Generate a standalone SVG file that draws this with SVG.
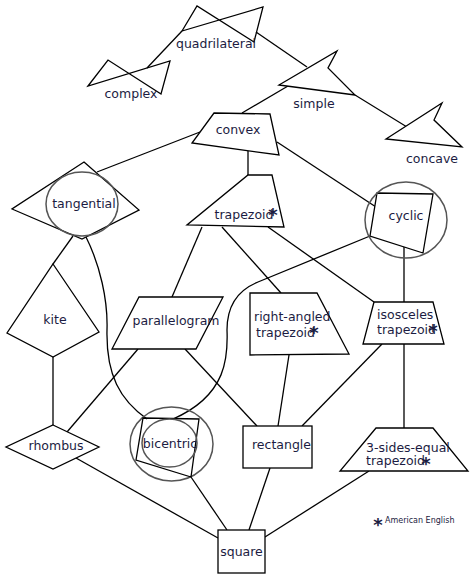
<svg xmlns="http://www.w3.org/2000/svg" width="474" height="579" viewBox="0 0 474 579">
<style>
.s{fill:#fff;stroke:#000;stroke-width:1.3;stroke-linejoin:miter}
.c{fill:none;stroke:#555;stroke-width:1.5}
.l{fill:none;stroke:#000;stroke-width:1.3}
.t{font-family:"DejaVu Sans",sans-serif;font-size:12.5px;fill:#1c1c42}
.m{text-anchor:middle}
.a{font-family:"DejaVu Sans",sans-serif;font-size:18px;font-weight:bold;fill:#1c1c42;text-anchor:middle}
.n{font-family:"DejaVu Sans",sans-serif;font-size:8px;fill:#1c1c42}
</style>
<rect width="474" height="579" fill="#fff"/>
<g id="connectors">
<line class="l" x1="182" y1="31" x2="147" y2="68"/>
<line class="l" x1="256" y1="32" x2="307" y2="67"/>
<line class="l" x1="355" y1="95" x2="407" y2="127"/>
<line class="l" x1="288" y1="86" x2="242" y2="113"/>
<line class="l" x1="200" y1="132" x2="97" y2="172"/>
<line class="l" x1="248" y1="151" x2="248" y2="175"/>
<line class="l" x1="277" y1="142" x2="376" y2="207"/>
<line class="l" x1="73" y1="236" x2="53" y2="264"/>
<path class="l" d="M86,237 C100,265 108,300 107,330 C106,375 120,400 147,419"/>
<line class="l" x1="202" y1="227" x2="172" y2="297"/>
<line class="l" x1="222" y1="227" x2="281" y2="293"/>
<line class="l" x1="268" y1="227" x2="374" y2="302"/>
<line class="l" x1="404" y1="247" x2="404" y2="302"/>
<path class="l" d="M370,236 L258,282 C238,290 227,305 227,330 C228,355 228,395 173,419"/>
<line class="l" x1="53" y1="357" x2="53" y2="425"/>
<line class="l" x1="138" y1="349" x2="67" y2="432"/>
<line class="l" x1="185" y1="349" x2="257" y2="426"/>
<line class="l" x1="289" y1="355" x2="278" y2="426"/>
<line class="l" x1="382" y1="344" x2="302" y2="426"/>
<line class="l" x1="404" y1="344" x2="404" y2="428"/>
<line class="l" x1="76" y1="458" x2="218" y2="538"/>
<line class="l" x1="191" y1="477" x2="227" y2="530"/>
<line class="l" x1="270" y1="468" x2="249" y2="530"/>
<line class="l" x1="369" y1="471" x2="265" y2="537"/>
</g>
<g id="quadrilateral">
<path class="l" d="M182,31 L197,6 L254,42 L263,7 Z"/>
<text class="t m" x="216" y="48">quadrilateral</text>
</g>
<g id="complex">
<path class="l" d="M88,86 L108,60 L161,94 L170,61 Z"/>
<text class="t m" x="131" y="98">complex</text>
</g>
<g id="simple">
<path class="s" d="M279,85 L337,51 L328,68 L355,95 Z"/>
<text class="t m" x="314" y="107.5">simple</text>
</g>
<g id="concave">
<path class="s" d="M386,139 L442,103 L434,120 L462,147 Z"/>
<text class="t m" x="432" y="163">concave</text>
</g>
<g id="convex">
<path class="s" d="M214,113 L270,114 L279,155 L192,143 Z"/>
<text class="t m" x="238" y="134">convex</text>
</g>
<g id="tangential">
<path class="s" d="M84,162 L139,210 L82,239 L12,209 Z"/>
<ellipse class="c" cx="82" cy="204" rx="36" ry="32"/>
<text class="t m" x="84" y="207.5">tangential</text>
</g>
<g id="trapezoid">
<path class="s" d="M248,175 L272,175 L284,227 L187,225 Z"/>
<text class="t m" x="244" y="219">trapezoid</text>
<text class="a" x="273" y="220.5">*</text>
</g>
<g id="cyclic">
<path class="s" d="M377,193 L433,194 L423,253 L370,236 Z"/>
<ellipse class="c" cx="406" cy="220" rx="41" ry="38"/>
<text class="t m" x="406" y="220">cyclic</text>
</g>
<g id="kite">
<path class="s" d="M53,264 L99,332 L53,357 L7,333 Z"/>
<text class="t m" x="55" y="324">kite</text>
</g>
<g id="parallelogram">
<path class="s" d="M139,297 L223,297 L196,349 L112,349 Z"/>
<text class="t m" x="176" y="325">parallelogram</text>
</g>
<g id="right-angled-trapezoid">
<path class="s" d="M250,293 L317,293 L349,354 L250,355 Z"/>
<text class="t" x="254" y="321">right-angled</text>
<text class="t" x="256" y="337">trapezoid</text>
<text class="a" x="314" y="338.5">*</text>
</g>
<g id="isosceles-trapezoid">
<path class="s" d="M374,302 L433,302 L444,344 L363,344 Z"/>
<text class="t" x="377" y="319">isosceles</text>
<text class="t" x="377" y="334">trapezoid</text>
<text class="a" x="433" y="336.5">*</text>
</g>
<g id="rhombus">
<path class="s" d="M53,425 L99,447 L53,469 L6,447 Z"/>
<text class="t m" x="56" y="450">rhombus</text>
</g>
<g id="bicentric">
<ellipse class="c" cx="171.5" cy="444" rx="41.5" ry="37"/>
<path class="l" d="M143,418 L199,419 L191,477 L136,460 Z"/>
<ellipse class="c" cx="169.5" cy="443" rx="27.5" ry="24"/>
<text class="t m" x="170" y="448">bicentric</text>
</g>
<g id="rectangle">
<rect class="s" x="243" y="426" width="69" height="42"/>
<text class="t m" x="281.5" y="449">rectangle</text>
</g>
<g id="three-sides-equal-trapezoid">
<path class="s" d="M376,428 L433,428 L468,471 L340,471 Z"/>
<text class="t" x="366" y="452">3-sides-equal</text>
<text class="t" x="366" y="465">trapezoid</text>
<text class="a" x="426" y="469.5">*</text>
</g>
<g id="square">
<rect class="s" x="218" y="530" width="47" height="43"/>
<text class="t m" x="241.5" y="556">square</text>
</g>
<g id="note">
<text class="a" x="378" y="530.5">*</text>
<text class="n" x="385" y="523">American English</text>
</g>
</svg>
